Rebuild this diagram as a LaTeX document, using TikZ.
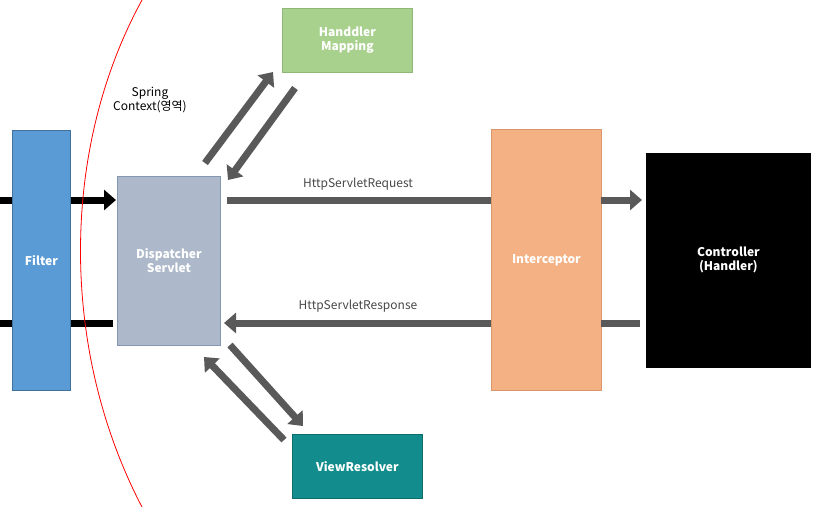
\documentclass[tikz,border=0pt]{standalone}
\usepackage{fontspec}
\setmainfont{Noto Sans CJK KR}
\usetikzlibrary{arrows.meta}
\definecolor{ga}{HTML}{595959}
\definecolor{fb}{HTML}{5B9BD5}\definecolor{fbd}{HTML}{41719C}
\definecolor{db}{HTML}{ADB9CA}\definecolor{dbd}{HTML}{8497B0}
\definecolor{hg}{HTML}{A9D18E}\definecolor{hgd}{HTML}{8FB777}
\definecolor{vt}{HTML}{128C8C}\definecolor{vtd}{HTML}{0E6E6E}
\definecolor{io}{HTML}{F4B183}\definecolor{iod}{HTML}{D9966A}
\tikzset{
 box/.style={draw, line width=0.8pt, anchor=north west, font=\bfseries\fontsize{12}{14}\selectfont, text=white, align=center, inner sep=0pt},
 garr/.style={ga, line width=7pt, -{Triangle[length=12pt,width=20pt]}},
 gline/.style={ga, line width=7pt},
 barr/.style={black, line width=7pt, -{Triangle[length=12pt,width=20pt]}},
 lab/.style={font=\fontsize{12}{14}\selectfont, text=ga!80!black}
}
\begin{document}
\begin{tikzpicture}[x=1pt,y=-1pt]
\useasboundingbox (0,0) rectangle (820,507);
\coordinate (l1) at (0,200);
\coordinate (l2) at (0,323);
\coordinate (d1) at (116,200);
\coordinate (d2) at (113,323);
\draw[barr] (l1) -- (d1);
\draw[black, line width=7pt] (l2) -- (d2);
\node[box, fill=fb, draw=fbd, minimum width=58pt, minimum height=260pt] (filter) at (12,130) {Filter};
\node[box, fill=db, draw=dbd, minimum width=103pt, minimum height=169pt] (ds) at (117,176) {Dispatcher\\Servlet};
\node[box, fill=hg, draw=hgd, minimum width=130pt, minimum height=64pt] (hm) at (282,8) {Handdler\\Mapping};
\node[box, fill=vt, draw=vtd, minimum width=130pt, minimum height=64pt] (vr) at (292,434) {ViewResolver};
\node[box, fill=io, draw=iod, minimum width=110pt, minimum height=261pt] (ic) at (491,129) {Interceptor};
\node[box, fill=black, draw=black, minimum width=164pt, minimum height=214pt] (ct) at (646,153) {Controller\\(Handler)};
\draw[red, line width=0.8pt] (142,0) .. controls (60,150) and (60,350) .. (142,507);
\node[font=\fontsize{12}{14}\selectfont, align=center] (sc) at (150,100) {Spring\\Context(영역)};
\coordinate (a1) at (227,200);
\coordinate (a2) at (491,200);
\coordinate (a3) at (601,200);
\coordinate (a4) at (642,200);
\draw[gline] (a1) -- (a2);
\draw[garr] (a3) -- (a4);
\node[lab] (req) at (358,184) {HttpServletRequest};
\coordinate (b1) at (640,323);
\coordinate (b2) at (601,323);
\coordinate (b3) at (491,323);
\coordinate (b4) at (224,323);
\draw[gline] (b1) -- (b2);
\draw[garr] (b3) -- (b4);
\node[lab] (res) at (358,306) {HttpServletResponse};
\coordinate (c1) at (205,163); \coordinate (c2) at (273,72);
\coordinate (c3) at (295,88); \coordinate (c4) at (228,180);
\draw[garr] (c1) -- (c2);
\draw[garr] (c3) -- (c4);
\coordinate (e1) at (230,345); \coordinate (e2) at (303,426);
\coordinate (e3) at (284,440); \coordinate (e4) at (204,357);
\draw[garr] (e1) -- (e2);
\draw[garr] (e3) -- (e4);
\end{tikzpicture}
\end{document}
